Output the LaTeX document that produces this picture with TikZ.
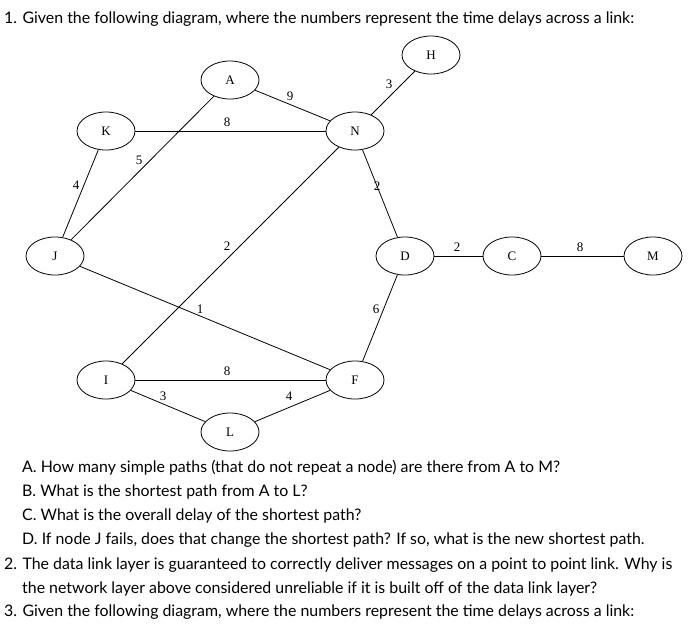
\documentclass[tikz,border=0pt]{standalone}
\usepackage{fontspec}
\setmainfont{Lato}
\newfontfamily\nodefont{Liberation Serif}
\begin{document}
\begin{tikzpicture}[x=1pt,y=-1pt,
  vtx/.style={draw,ellipse,minimum width=58pt,minimum height=38pt,inner sep=0pt,font=\nodefont\fontsize{13}{13}\selectfont,line width=0.8pt},
  wt/.style={font=\nodefont\fontsize{13}{13}\selectfont,inner sep=0pt},
  txt/.style={anchor=west,font=\fontsize{15.9}{17}\selectfont,inner sep=0pt},
  edge/.style={line width=0.8pt}]
\usetikzlibrary{shapes.geometric}
\useasboundingbox (0,0) rectangle (688,630);
\node[vtx] (A) at (230,80) {A};
\node[vtx] (H) at (431,55) {H};
\node[vtx] (K) at (106,131) {K};
\node[vtx] (N) at (355,131) {N};
\node[vtx] (J) at (55,256) {J};
\node[vtx] (D) at (405,256) {D};
\node[vtx] (C) at (512,256) {C};
\node[vtx] (M) at (653,256) {M};
\node[vtx] (I) at (106,380) {I};
\node[vtx] (F) at (355,380) {F};
\node[vtx] (L) at (230,432) {L};
\draw[edge] (A)--(N); \draw[edge] (N)--(H); \draw[edge] (K)--(N);
\draw[edge] (A)--(J); \draw[edge] (K)--(J); \draw[edge] (N)--(D);
\draw[edge] (N)--(I); \draw[edge] (D)--(C); \draw[edge] (C)--(M);
\draw[edge] (J)--(F); \draw[edge] (D)--(F); \draw[edge] (I)--(F);
\draw[edge] (I)--(L); \draw[edge] (L)--(F);
\node[wt] at (290,96) {9};
\node[wt] at (389,84) {3};
\node[wt] at (227,122) {8};
\node[wt] at (139,160) {5};
\node[wt] at (76,185) {4};
\node[wt] at (377,186) {2};
\node[wt] at (227,246) {2};
\node[wt] at (457,247) {2};
\node[wt] at (580,247) {8};
\node[wt] at (200,309) {1};
\node[wt] at (376,309) {6};
\node[wt] at (227,371) {8};
\node[wt] at (163,396) {3};
\node[wt] at (289,396) {4};
\node[txt] at (4,19) {1. Given the following diagram, where the numbers represent the time delays across a link:};
\node[txt] at (22,468) {A. How many simple paths (that do not repeat a node) are there from A to M?};
\node[txt] at (22,492) {B. What is the shortest path from A to L?};
\node[txt] at (22,516) {C. What is the overall delay of the shortest path?};
\node[txt] at (22,540) {D. If node J fails, does that change the shortest path? If so, what is the new shortest path.};
\node[txt] at (4,565) {2. The data link layer is guaranteed to correctly deliver messages on a point to point link. Why is};
\node[txt] at (22,589) {the network layer above considered unreliable if it is built off of the data link layer?};
\node[txt] at (4,612) {3. Given the following diagram, where the numbers represent the time delays across a link:};
\end{tikzpicture}
\end{document}
